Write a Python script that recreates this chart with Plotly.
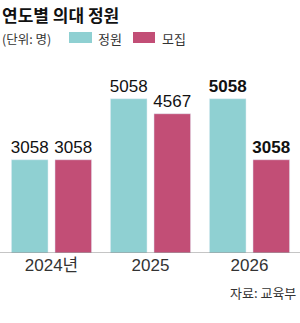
import plotly.graph_objects as go

years = ["2024년", "2025", "2026"]
quota = [3058, 5058, 5058]      # 정원
recruit = [3058, 4567, 3058]    # 모집
bold_flags = [False, False, True]

TEAL = "#8FD0D2"
PINK = "#C24E76"
NUM_FONT = "Liberation Sans Narrow, Arial Narrow, Liberation Sans, Noto Sans CJK KR, sans-serif"
KR_FONT = "Noto Sans CJK KR, sans-serif"

W, H = 300, 323
L, R, T, B = 2, 1, 70, 70
PW, PH = W - L - R, H - T - B


def px_x(px):
    return (px - L) / PW


def px_y(py):
    return (H - B - py) / PH


def lbl(v, b):
    return f"<b>{v}</b>" if b else f"{v}"


fig = go.Figure()
fig.add_bar(x=years, y=quota, name="정원", marker_color=TEAL,
            text=[lbl(v, b) for v, b in zip(quota, bold_flags)],
            textposition="outside", cliponaxis=False, constraintext="none",
            textfont=dict(family=NUM_FONT, size=17, color="#111"))
fig.add_bar(x=years, y=recruit, name="모집", marker_color=PINK,
            text=[lbl(v, b) for v, b in zip(recruit, bold_flags)],
            textposition="outside", cliponaxis=False, constraintext="none",
            textfont=dict(family=NUM_FONT, size=17, color="#111"))

shapes = [
    dict(type="line", xref="paper", yref="y", x0=px_x(0), x1=px_x(300), y0=0, y1=0,
         line=dict(color="#8a8a8a", width=1)),
    dict(type="rect", xref="paper", yref="paper", x0=px_x(69), x1=px_x(92),
         y0=px_y(43), y1=px_y(32), fillcolor=TEAL, line=dict(width=0)),
    dict(type="rect", xref="paper", yref="paper", x0=px_x(133), x1=px_x(155),
         y0=px_y(43), y1=px_y(32), fillcolor=PINK, line=dict(width=0)),
]

annotations = [
    dict(text="<b>연도별 의대 정원</b>", xref="paper", yref="paper", x=px_x(0), y=px_y(0),
         xanchor="left", yanchor="top", showarrow=False,
         font=dict(family=KR_FONT, size=17, color="#111")),
    dict(text="(단위: 명)", xref="paper", yref="paper", x=px_x(0), y=px_y(38),
         xanchor="left", yanchor="middle", showarrow=False,
         font=dict(family=KR_FONT, size=12.5, color="#333")),
    dict(text="정원", xref="paper", yref="paper", x=px_x(96), y=px_y(38),
         xanchor="left", yanchor="middle", showarrow=False,
         font=dict(family=KR_FONT, size=13, color="#333")),
    dict(text="모집", xref="paper", yref="paper", x=px_x(160), y=px_y(38),
         xanchor="left", yanchor="middle", showarrow=False,
         font=dict(family=KR_FONT, size=13, color="#333")),
    dict(text="자료: 교육부", xref="paper", yref="paper", x=px_x(298), y=px_y(292),
         xanchor="right", yanchor="middle", showarrow=False,
         font=dict(family=KR_FONT, size=13, color="#333")),
]

fig.update_layout(
    width=W, height=H,
    margin=dict(l=L, r=R, t=T, b=B, pad=0),
    plot_bgcolor="white", paper_bgcolor="white",
    barmode="group", bargap=0.12, bargroupgap=0.16,
    showlegend=False,
    shapes=shapes, annotations=annotations,
    xaxis=dict(showgrid=False, zeroline=False, showline=False, ticks="",
               tickfont=dict(family=NUM_FONT, size=17, color="#333"),
               fixedrange=True),
    yaxis=dict(range=[0, 6000], visible=False, fixedrange=True),
)

fig.write_html("out.html", config={"displayModeBar": False})
